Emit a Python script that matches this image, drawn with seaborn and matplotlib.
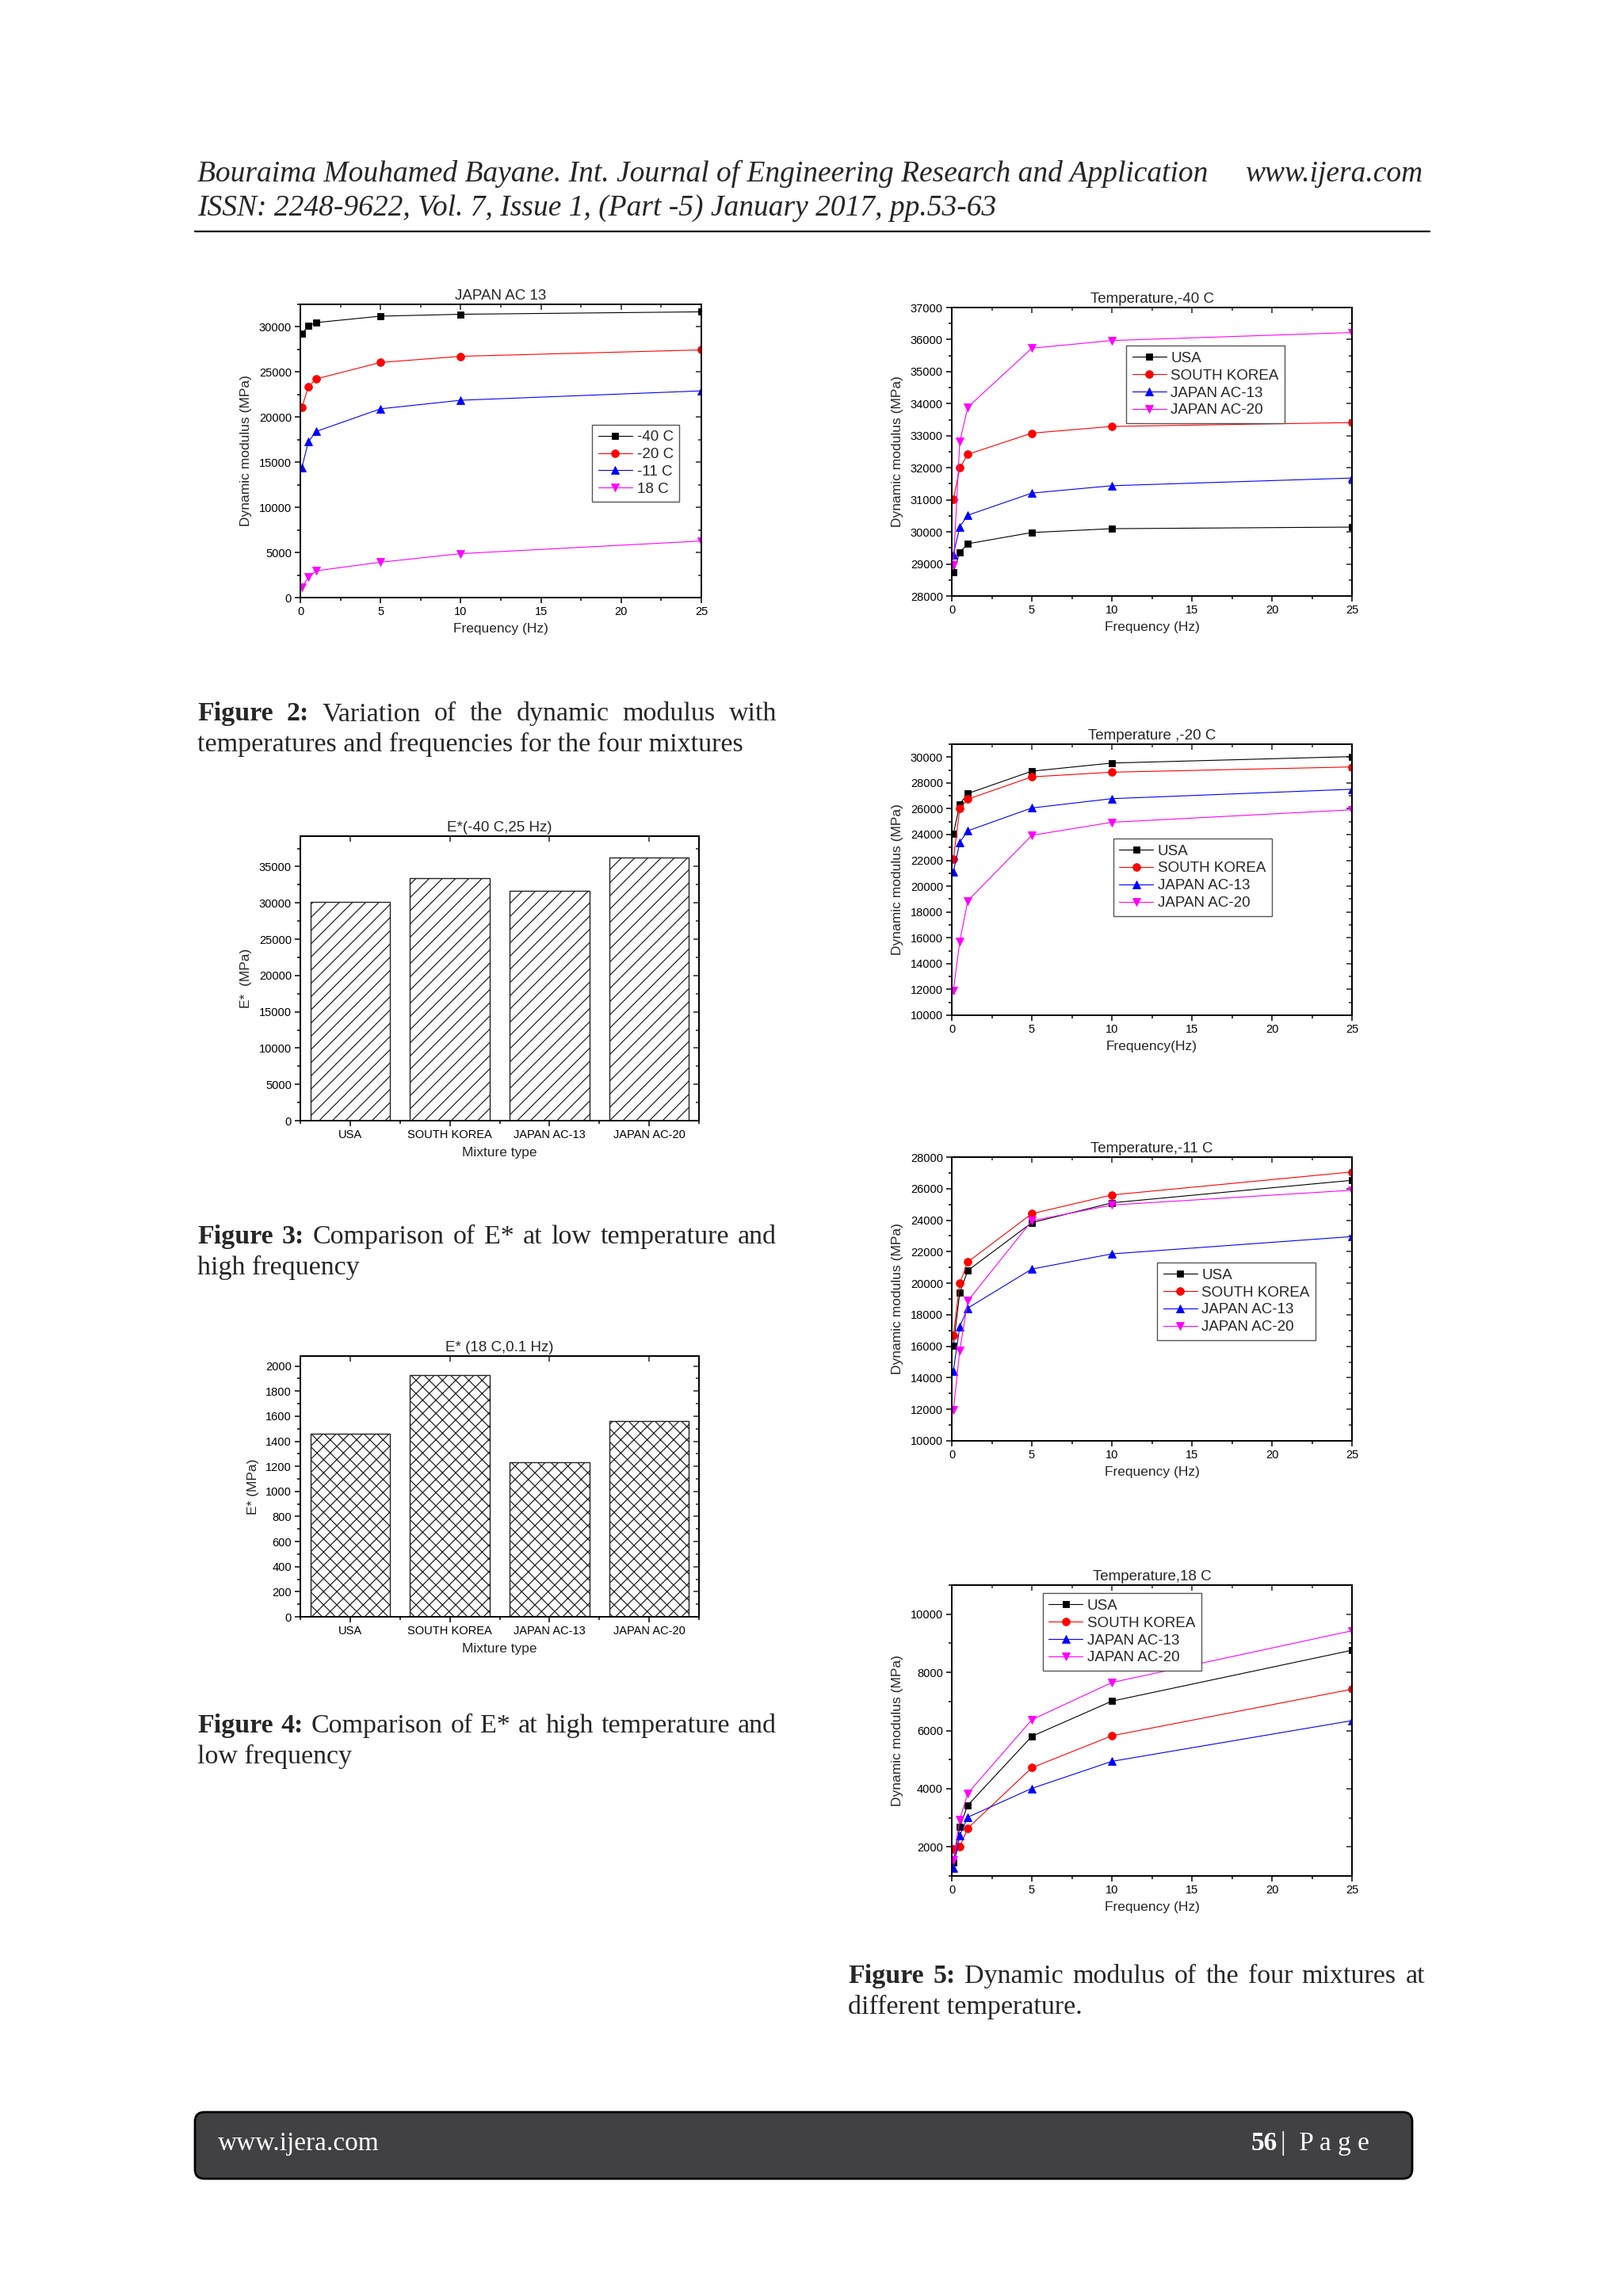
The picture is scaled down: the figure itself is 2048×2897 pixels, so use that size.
import numpy as np
import pandas as pd
import matplotlib
matplotlib.use("Agg")
import matplotlib.pyplot as plt
import seaborn as sns
from matplotlib.ticker import MultipleLocator, FixedLocator
from matplotlib.patches import FancyBboxPatch
from matplotlib.lines import Line2D

# ---------------- data ----------------
FREQ = [0.1, 0.5, 1, 5, 10, 25]
MIXTURES = ["USA", "SOUTH KOREA", "JAPAN AC-13", "JAPAN AC-20"]
TEMPS = ["-40 C", "-20 C", "-11 C", "18 C"]

# Figure: JAPAN AC 13 at four temperatures
JAC13_M40 = [29230, 30130, 30480, 31190, 31400, 31670]
JAC13_M20 = [21090, 23380, 24240, 26060, 26740, 27450]
JAC13_M11 = [14440, 17290, 18420, 20920, 21870, 22910]
JAC13_P18 = [1160, 2260, 2970, 3920, 4870, 6270]

# Temperature -40 C
T40_USA = [28740, 29360, 29630, 29980, 30100, 30150]
T40_SK = [31010, 32000, 32420, 33080, 33290, 33410]
T40_JAC13 = [29290, 30160, 30520, 31210, 31440, 31680]
T40_JAC20 = [28970, 32810, 33890, 35730, 35970, 36220]

# Temperature -20 C
T20_USA = [24040, 26360, 27180, 28910, 29540, 30040]
T20_SK = [22070, 26020, 26740, 28470, 28830, 29240]
T20_JAC13 = [21110, 23400, 24290, 26060, 26780, 27510]
T20_JAC20 = [11910, 15730, 18870, 23940, 24950, 25920]

# Temperature -11 C
T11_USA = [16030, 19420, 20800, 23840, 25100, 26530]
T11_SK = [16680, 19990, 21350, 24410, 25600, 27060]
T11_JAC13 = [14440, 17260, 18420, 20900, 21860, 22960]
T11_JAC20 = [11950, 15740, 18880, 23960, 24960, 25900]

# Temperature 18 C
T18_USA = [1460, 2690, 3430, 5800, 7010, 8760]
T18_SK = [1930, 2000, 2640, 4720, 5820, 7420]
T18_JAC13 = [1270, 2390, 3020, 4010, 4940, 6340]
T18_JAC20 = [1550, 2940, 3840, 6370, 7650, 9430]

# Bar charts
E_M40_25HZ = [30150, 33440, 31710, 36270]
E_18_01HZ = [1461, 1927, 1234, 1563]

# ---------------- style ----------------
sns.set_style("ticks")
plt.rcParams["font.family"] = ["Liberation Sans", "DejaVu Sans"]
plt.rcParams["hatch.linewidth"] = 0.9
plt.rcParams["hatch.color"] = "#333333"

COLORS = ["#000000", "#FF0000", "#0000FF", "#FF00FF"]
MARKERS = ["s", "o", "^", "v"]
MSIZES = [6.0, 7.0, 7.5, 7.5]

W, H = 2048, 2897
fig = plt.figure(figsize=(W / 100, H / 100), dpi=100)
fig.patch.set_facecolor("white")
renderer = fig.canvas.get_renderer()


def add_axes(x0, x1, y0, y1):
    return fig.add_axes([x0 / W, 1 - y1 / H, (x1 - x0) / W, (y1 - y0) / H])


def ftext(x, y, s, **kw):
    return fig.text(x / W, 1 - y / H, s, **kw)


def finish_axes(ax, ymaj, ymin, xmaj=None, xmin=None, xmaj_list=None, xmin_list=None):
    for sp in ax.spines.values():
        sp.set_linewidth(1.4)
        sp.set_color("black")
    if xmaj is not None:
        ax.xaxis.set_major_locator(MultipleLocator(xmaj))
        ax.xaxis.set_minor_locator(MultipleLocator(xmin))
    if xmin_list is not None:
        ax.xaxis.set_minor_locator(FixedLocator(xmin_list))
    ax.yaxis.set_major_locator(MultipleLocator(ymaj))
    ax.yaxis.set_minor_locator(MultipleLocator(ymin))
    ax.tick_params(which="both", direction="out", top=False, right=False,
                   width=1.1, colors="black", labelsize=10.5, pad=3)
    ax.tick_params(which="major", length=5)
    ax.tick_params(which="minor", length=3)
    # mirrored inward ticks on top and right
    sx = ax.secondary_xaxis("top")
    if xmaj is not None:
        sx.xaxis.set_major_locator(MultipleLocator(xmaj))
        sx.xaxis.set_minor_locator(MultipleLocator(xmin))
    else:
        sx.xaxis.set_major_locator(FixedLocator(xmaj_list))
    sx.tick_params(which="both", direction="in", labeltop=False, width=1.1)
    sx.tick_params(which="major", length=5)
    sx.tick_params(which="minor", length=3)
    sx.spines["top"].set_linewidth(1.4)
    sy = ax.secondary_yaxis("right")
    sy.yaxis.set_major_locator(MultipleLocator(ymaj))
    sy.yaxis.set_minor_locator(MultipleLocator(ymin))
    sy.tick_params(which="both", direction="in", labelright=False, width=1.1)
    sy.tick_params(which="major", length=5)
    sy.tick_params(which="minor", length=3)
    sy.spines["right"].set_linewidth(1.4)


def line_panel(ax, series, labels, ylim, ymaj, ymin, title, xlabel, leg_anchor):
    for vals, lab, c, m, ms in zip(series, labels, COLORS, MARKERS, MSIZES):
        sns.lineplot(x=FREQ, y=vals, ax=ax, color=c, marker=m, markersize=ms,
                     markeredgewidth=0.6, markeredgecolor=c, linewidth=0.8,
                     label=lab, legend=False)
    ax.set_xlim(0, 25)
    ax.set_ylim(*ylim)
    ax.set_title(title, fontsize=13.5, pad=4)
    ax.set_xlabel(xlabel, fontsize=12.5, labelpad=5)
    ax.set_ylabel("Dynamic modulus (MPa)", fontsize=12.5, labelpad=6)
    finish_axes(ax, ymaj, ymin, xmaj=5, xmin=2.5)
    handles = [
        Line2D([], [], color=c, marker=m, markersize=ms, linewidth=0.8,
               markeredgecolor=c, markeredgewidth=0.6)
        for c, m, ms in zip(COLORS, MARKERS, MSIZES)
    ]
    leg = ax.legend(handles, labels, loc="upper left", bbox_to_anchor=leg_anchor,
                    borderaxespad=0, fontsize=13.5, frameon=True, fancybox=False,
                    framealpha=1, edgecolor="#555555", labelspacing=0.25,
                    borderpad=0.4, handlelength=2.3, handletextpad=0.3)
    leg.get_frame().set_linewidth(1.0)


def bar_panel(ax, values, hatch, ylim, ymaj, ymin, title, ylabel):
    sns.barplot(x=MIXTURES, y=values, ax=ax, color="white", edgecolor="#222222",
                linewidth=1.0, hatch=hatch, width=0.8, saturation=1)
    ax.set_xlim(-0.5, len(MIXTURES) - 0.5)
    ax.set_ylim(*ylim)
    ax.set_title(title, fontsize=13.5, pad=4)
    ax.set_xlabel("Mixture type", fontsize=12.5, labelpad=6)
    ax.set_ylabel(ylabel, fontsize=12.5, labelpad=6)
    finish_axes(ax, ymaj, ymin, xmaj_list=list(range(len(MIXTURES))),
                xmin_list=list(np.arange(-0.5, len(MIXTURES), 1.0)))


# ---------------- panels ----------------
ax1 = add_axes(379, 885, 384, 754)
line_panel(ax1, [JAC13_M40, JAC13_M20, JAC13_M11, JAC13_P18], TEMPS,
           (0, 32500), 5000, 2500, "JAPAN AC 13", "Frequency (Hz)", (0.728, 0.59))

ax2 = add_axes(1201, 1706, 388, 752)
line_panel(ax2, [T40_USA, T40_SK, T40_JAC13, T40_JAC20], MIXTURES,
           (28000, 37000), 1000, 500, "Temperature,-40 C", "Frequency (Hz)", (0.436, 0.867))

ax5 = add_axes(1201, 1706, 939, 1281)
line_panel(ax5, [T20_USA, T20_SK, T20_JAC13, T20_JAC20], MIXTURES,
           (10000, 31000), 2000, 1000, "Temperature ,-20 C", "Frequency(Hz)", (0.403, 0.652))

ax6 = add_axes(1201, 1706, 1460, 1818)
line_panel(ax6, [T11_USA, T11_SK, T11_JAC13, T11_JAC20], MIXTURES,
           (10000, 28000), 2000, 1000, "Temperature,-11 C", "Frequency (Hz)", (0.513, 0.628))

ax7 = add_axes(1201, 1706, 2000, 2367)
line_panel(ax7, [T18_USA, T18_SK, T18_JAC13, T18_JAC20], MIXTURES,
           (1000, 11000), 2000, 1000, "Temperature,18 C", "Frequency (Hz)", (0.227, 0.972))

ax3 = add_axes(379, 882, 1055, 1414)
bar_panel(ax3, E_M40_25HZ, "//", (0, 39200), 5000, 2500, "E*(-40 C,25 Hz)", "E*  (MPa)")

ax4 = add_axes(379, 882, 1711, 2040)
bar_panel(ax4, E_18_01HZ, "xx", (0, 2080), 200, 100, "E* (18 C,0.1 Hz)", "E* (MPa)")

# ---------------- page text ----------------
SERIF = ["Liberation Serif", "DejaVu Serif"]

ftext(249, 229, "Bouraima Mouhamed Bayane. Int. Journal of Engineering Research and Application",
      family=SERIF, style="italic", fontsize=27, va="baseline", ha="left")
ftext(1795, 229, "www.ijera.com", family=SERIF, style="italic", fontsize=27,
      va="baseline", ha="right")
ftext(249, 272, "ISSN: 2248-9622, Vol. 7, Issue 1, (Part -5) January 2017, pp.53-63",
      family=SERIF, style="italic", fontsize=27, va="baseline", ha="left")
fig.add_artist(Line2D([246 / W, 1804 / W], [1 - 292 / H, 1 - 292 / H],
                      transform=fig.transFigure, color="black", linewidth=1.6))

CAP_SIZE = 24.5


def justified(tokens, x0, x1, y, size=CAP_SIZE):
    widths = []
    for word, wt in tokens:
        t = ftext(0, 0, word, family=SERIF, fontsize=size, fontweight=wt)
        widths.append(t.get_window_extent(renderer).width)
        t.remove()
    gap = (x1 - x0 - sum(widths)) / (len(tokens) - 1)
    x = x0
    for (word, wt), wd in zip(tokens, widths):
        ftext(x, y, word, family=SERIF, fontsize=size, fontweight=wt,
              va="baseline", ha="left")
        x += wd + gap


def caption(bold, first_rest, second, x0, x1, y):
    toks = [(w, "bold") for w in bold.split()] + [(w, "normal") for w in first_rest.split()]
    justified(toks, x0, x1, y)
    ftext(x0, y + 39, second, family=SERIF, fontsize=CAP_SIZE, va="baseline", ha="left")


caption("Figure 2:", "Variation of the dynamic modulus with",
        "temperatures and frequencies for the four mixtures", 249, 980, 909)
caption("Figure 3:", "Comparison of E* at low temperature and",
        "high frequency", 249, 980, 1569)
caption("Figure 4:", "Comparison of E* at high temperature and",
        "low frequency", 249, 980, 2186)
caption("Figure 5:", "Dynamic modulus of the four mixtures at",
        "different temperature.", 1070, 1798, 2502)

# ---------------- footer ----------------
box = FancyBboxPatch((2.46, (H - 2749) / 100), 15.36, 0.84,
                     boxstyle="round,pad=0,rounding_size=0.12",
                     transform=fig.dpi_scale_trans, facecolor="#414042",
                     edgecolor="black", linewidth=2)
fig.add_artist(box)
ftext(275, 2713, "www.ijera.com", family=SERIF, fontsize=24, color="white",
      va="baseline", ha="left")
t_page = ftext(1728, 2713, "|  P a g e", family=SERIF, fontsize=24, color="white",
               va="baseline", ha="right")
pw = t_page.get_window_extent(renderer).width
ftext(1728 - pw - 4, 2713, "56", family=SERIF, fontsize=24, color="white",
      fontweight="bold", va="baseline", ha="right")

fig.savefig("out.png", dpi=100, facecolor="white")
